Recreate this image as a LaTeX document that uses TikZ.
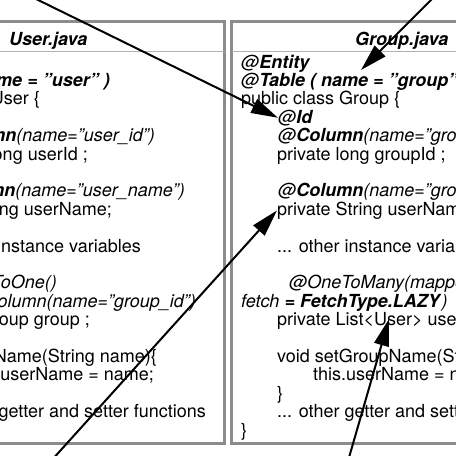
\documentclass[tikz,border=0pt]{standalone}
\usepackage{fontspec}
\setmainfont{TeX Gyre Heros}
\usepackage{tikz}
\usetikzlibrary{arrows.meta}

\newcommand{\annot}[1]{\textit{@}\textbf{\textit{#1}}}

\tikzset{
  box/.style={draw=black!45, line width=3pt},
  sepline/.style={draw=black!30, line width=1.5pt},
  code/.style={inner sep=0pt, font=\fontsize{18}{18}\selectfont},
  lcode/.style={code, anchor=base west},
  rcode/.style={code, anchor=base east},
  title/.style={lcode, font=\fontsize{18}{18}\selectfont\bfseries\itshape},
  ptr/.style={-{Triangle[length=27pt,width=15pt]}, line width=2pt}
}

\begin{document}
\begin{tikzpicture}[x=1pt,y=-1pt]
\useasboundingbox (0,0) rectangle (456,456);
\clip (0,0) rectangle (456,456);

% the two class files
\draw[box] (-114.5,21.5) rectangle (224.5,443.5);
\draw[sepline] (-114.5,51.5) -- (224.5,51.5);
\draw[box] (231.5,21.5) rectangle (570.5,443.5);
\draw[sepline] (231.5,51.5) -- (570.5,51.5);

\node[title] (uHead) at (9,45) {User.java};
\node[title] (gHead) at (355,45) {Group.java};

% User.java
\node[rcode] (uTab)  at (110,86.4)  {\annot{Table ( name = ”user” )}};
\node[rcode] (uCls)  at (40,104.8)  {public class User \{};
\node[rcode] (uCol)  at (155,141.6) {\annot{Column}\textit{(name=”user\_id”)}};
\node[rcode] (uId)   at (88,160)    {private long userId ;};
\node[rcode] (uCol2) at (185,196.8) {\annot{Column}\textit{(name=”user\_name”)}};
\node[rcode] (uStr)  at (112,215.2) {private String userName;};
\node[rcode] (uVar)  at (141,252)   {... other instance variables};
\node[rcode] (uMany) at (57,288.8)  {\textit{@ManyToOne()}};
\node[rcode] (uJoin) at (196,307.2) {\textit{@JoinColumn(name=”group\_id”)}};
\node[rcode] (uGrp)  at (90,325.6)  {private Group group ;};
\node[rcode] (uSet)  at (157,362.4) {void setUserName(String name)\{};
\node[rcode] (uAsg)  at (154,380.8) {this.userName = name;};
\node[rcode] (uFun)  at (206,417.6) {... other getter and setter functions};

% Group.java
\node[lcode] (gEnt)  at (241,68)    {\annot{Entity}};
\node[lcode] (gTab)  at (241,86.4)  {\annot{Table ( name = ”group” )}};
\node[lcode] (gCls)  at (241,104.8) {public class Group \{};
\node[lcode] (gId)   at (278,123.2) {\annot{Id}};
\node[lcode] (gCol)  at (278,141.6) {\annot{Column}\textit{(name=”group\_id”)}};
\node[lcode] (gLng)  at (277,160)   {private long groupId ;};
\node[lcode] (gCol2) at (278,196.8) {\annot{Column}\textit{(name=”group\_name”)}};
\node[lcode] (gStr)  at (277,215.2) {private String userName;};
\node[lcode] (gVar)  at (277,252)   {... other instance variables};
\node[lcode] (gOne)  at (289,288.8) {\textit{@OneToMany(mappedBy=”group”,}};
\node[lcode] (gFet)  at (241,307.2) {\textit{fetch} \textbf{\textit{= FetchType.LAZY}}\textit{)}};
\node[lcode] (gLst)  at (277,325.6) {private List<User> users;};
\node[lcode] (gSet)  at (277,362.4) {void setGroupName(String name)\{};
\node[lcode] (gAsg)  at (313,380.8) {this.userName = name;};
\node[lcode] (gEnd)  at (277,399.2) {\}};
\node[lcode] (gFun)  at (277,417.6) {... other getter and setter functions};
\node[lcode] (gCls2) at (241,436)   {\}};

% arrows from outside the crop
\coordinate (idFrom)  at (30,-4);
\coordinate (tabFrom) at (435,-4);
\coordinate (tabTip)  at (361,70);
\coordinate (strFrom) at (51,461);
\coordinate (lstFrom) at (348,461);
\coordinate (lstTip)  at (389,319);

\draw[ptr] (idFrom) -- (gId.west);
\draw[ptr] (tabFrom) -- (tabTip);
\draw[ptr] (strFrom) -- (gStr.west);
\draw[ptr] (lstFrom) -- (lstTip);
\end{tikzpicture}
\end{document}
